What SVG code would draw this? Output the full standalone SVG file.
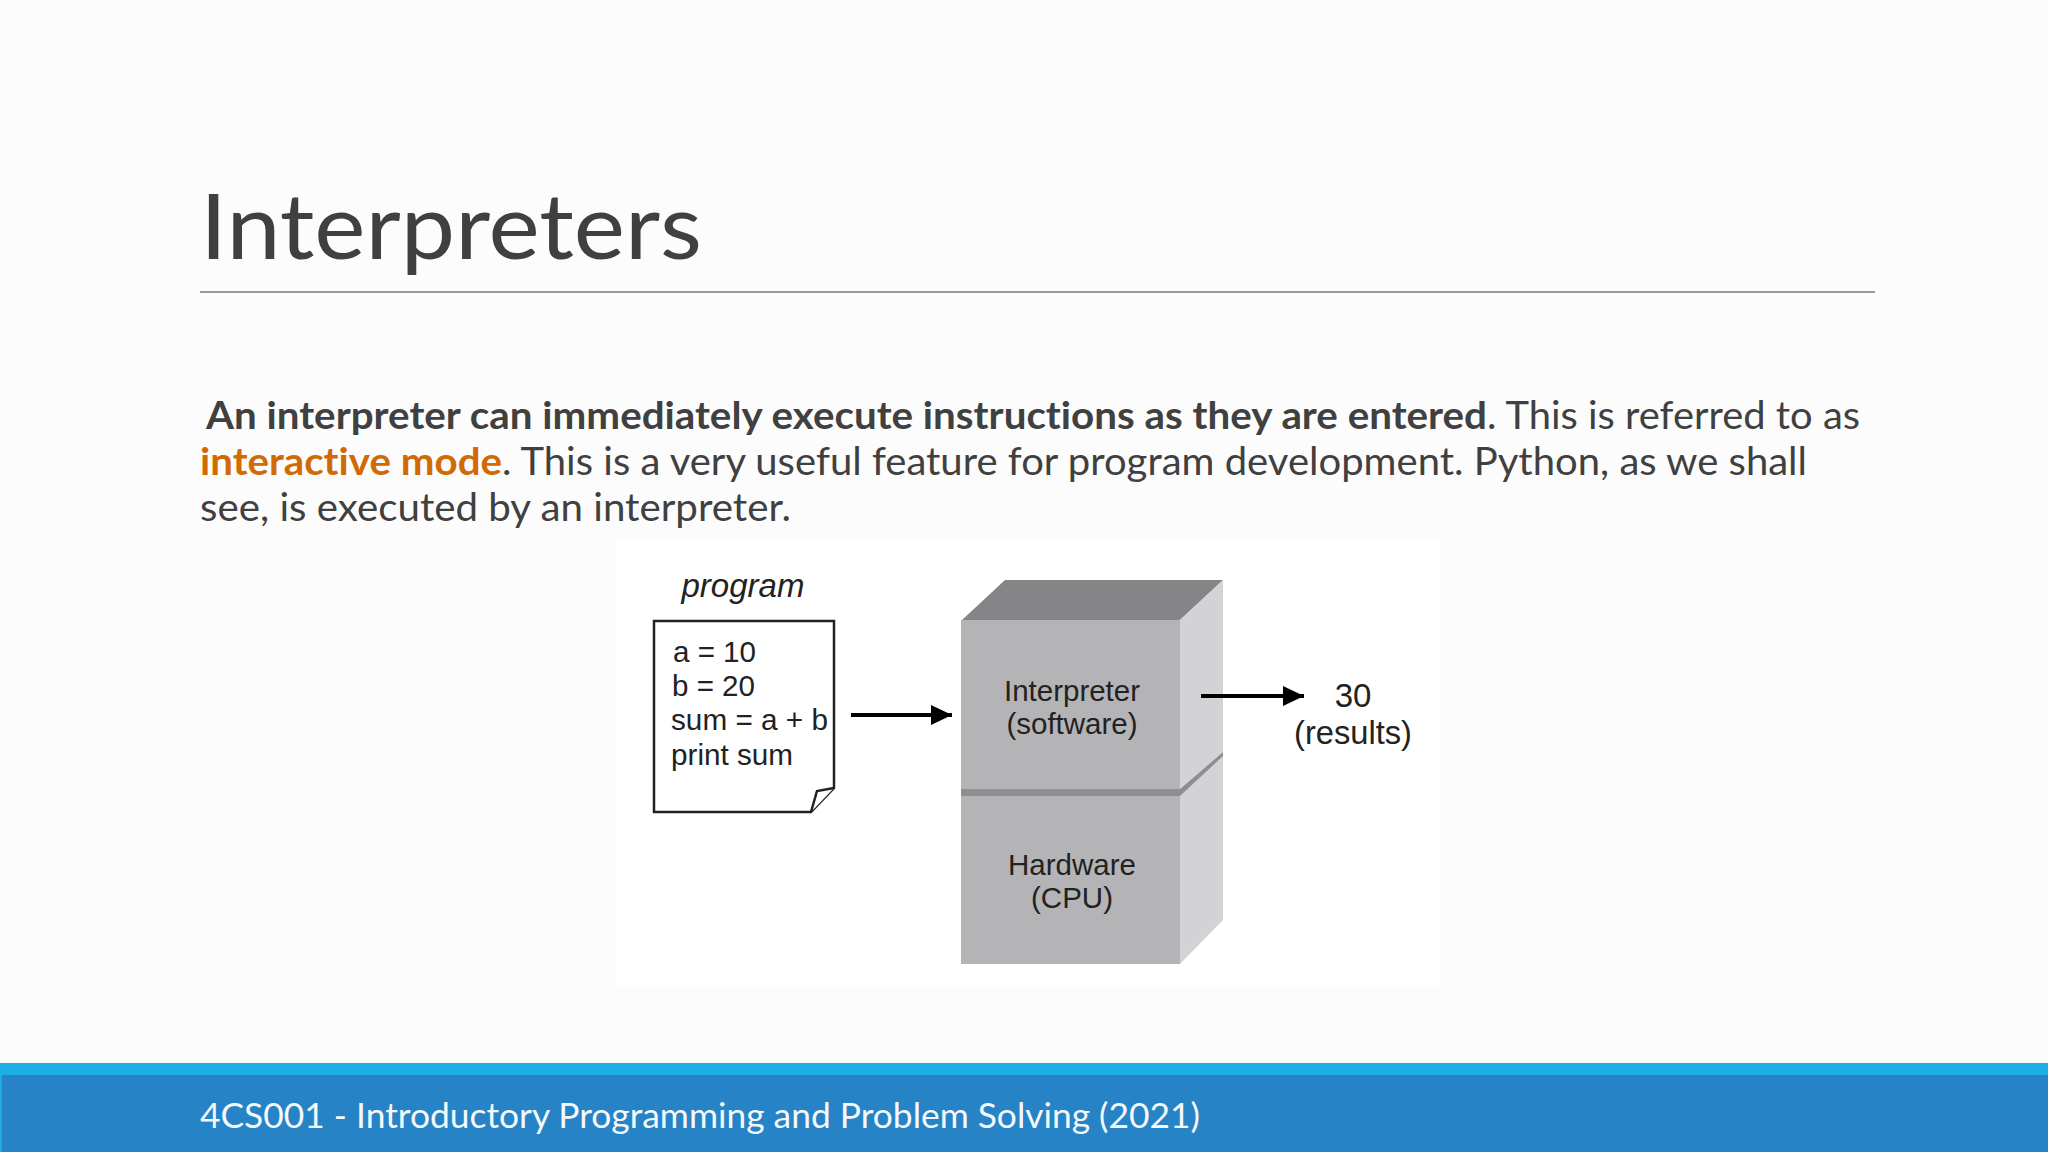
<svg xmlns="http://www.w3.org/2000/svg" width="2048" height="1152" viewBox="0 0 2048 1152">
<style>
.slide{font-family:Lato,"Open Sans",sans-serif;font-variant-ligatures:none}
.body{font-size:38px;fill:#404040}
.fig{font-family:"Liberation Sans",Arial,sans-serif;fill:#222}
.c{text-anchor:middle}
.code{font-size:29.5px}
.lab{font-size:29.5px}
.top{fill:#858587}.front{fill:#b4b4b6}.side{fill:#d3d3d5}
.conn{fill:none;stroke:#000;stroke-width:4}
</style>
<defs><marker id="ah" markerUnits="userSpaceOnUse" markerWidth="24" markerHeight="22" refX="21" refY="10" orient="auto"><path d="M0 0L21 10L0 20Z" fill="#000"/></marker></defs>
<rect width="2048" height="1152" fill="#fcfcfc"/>
<g id="title"><text class="slide" x="200" y="259" font-size="91" fill="#404040" textLength="502" lengthAdjust="spacingAndGlyphs">Interpreters</text>
<rect x="200" y="291" width="1675" height="2" fill="#999"/></g>
<g id="body" class="slide body">
<text x="206" y="429" font-weight="700" textLength="1281" lengthAdjust="spacingAndGlyphs">An interpreter can immediately execute instructions as they are entered</text>
<text x="1487" y="429" textLength="373" lengthAdjust="spacingAndGlyphs">. This is referred to as</text>
<text x="200" y="475" font-weight="700" style="fill:#d26a04" textLength="302" lengthAdjust="spacingAndGlyphs">interactive mode</text>
<text x="502" y="475" textLength="1305" lengthAdjust="spacingAndGlyphs">. This is a very useful feature for program development. Python, as we shall</text>
<text x="200" y="521" textLength="591" lengthAdjust="spacingAndGlyphs">see, is executed by an interpreter.</text>
</g>
<rect id="figure-bg" x="616" y="540" width="824" height="446" fill="#fff"/>
<g id="program" class="fig">
<text x="743" y="597" class="c" font-size="33" font-style="italic" textLength="123" lengthAdjust="spacingAndGlyphs">program</text>
<path d="M654 621H834V788L811 812H654Z" fill="#fff" stroke="#222" stroke-width="2.5"/>
<path d="M811 812L817 791L834 788" fill="#fff" stroke="#222" stroke-width="2.5"/>
<text class="code" x="673" y="662" textLength="83" lengthAdjust="spacingAndGlyphs">a = 10</text>
<text class="code" x="672" y="696" textLength="83" lengthAdjust="spacingAndGlyphs">b = 20</text>
<text class="code" x="671" y="730" textLength="157" lengthAdjust="spacingAndGlyphs">sum = a + b</text>
<text class="code" x="671" y="765" textLength="122" lengthAdjust="spacingAndGlyphs">print sum</text>
</g>
<g id="hardware" class="fig">
<path class="side" d="M1180 793L1223 755V920L1180 964Z"/>
<rect class="front" x="961" y="795" width="219" height="169"/>
<text class="c lab" x="1072" y="875">Hardware</text>
<text class="c lab" x="1072" y="908">(CPU)</text>
</g>
<g id="interpreter" class="fig">
<path class="top" d="M962 620L1005 580H1223L1180 620Z"/>
<path class="side" d="M1180 620L1223 580V752L1180 789Z"/>
<rect class="front" x="961" y="620" width="219" height="169"/>
<path d="M961 789H1180L1223 752V756L1180 796H961Z" fill="#8f8f91"/>
<text class="c lab" x="1072" y="701">Interpreter</text>
<text class="c lab" x="1072" y="734">(software)</text>
</g>
<g id="result" class="fig">
<text class="c" x="1353" y="707" font-size="33">30</text>
<text class="c" x="1353" y="744" font-size="33" textLength="118" lengthAdjust="spacingAndGlyphs">(results)</text>
</g>
<g id="connectors">
<path class="conn" d="M851 715H952" marker-end="url(#ah)"/>
<path class="conn" d="M1201 696H1304" marker-end="url(#ah)"/>
</g>
<g id="footer">
<rect y="1063" width="2048" height="89" fill="#1cade4"/>
<rect y="1075" width="2048" height="77" fill="#2683c6"/>
<rect y="1075" width="2" height="77" fill="#1cade4"/>
<text class="slide" x="200" y="1127.500" font-size="34" fill="#f4f8fb" textLength="1000" lengthAdjust="spacingAndGlyphs">4CS001 - Introductory Programming and Problem Solving (2021)</text>
</g>
</svg>
